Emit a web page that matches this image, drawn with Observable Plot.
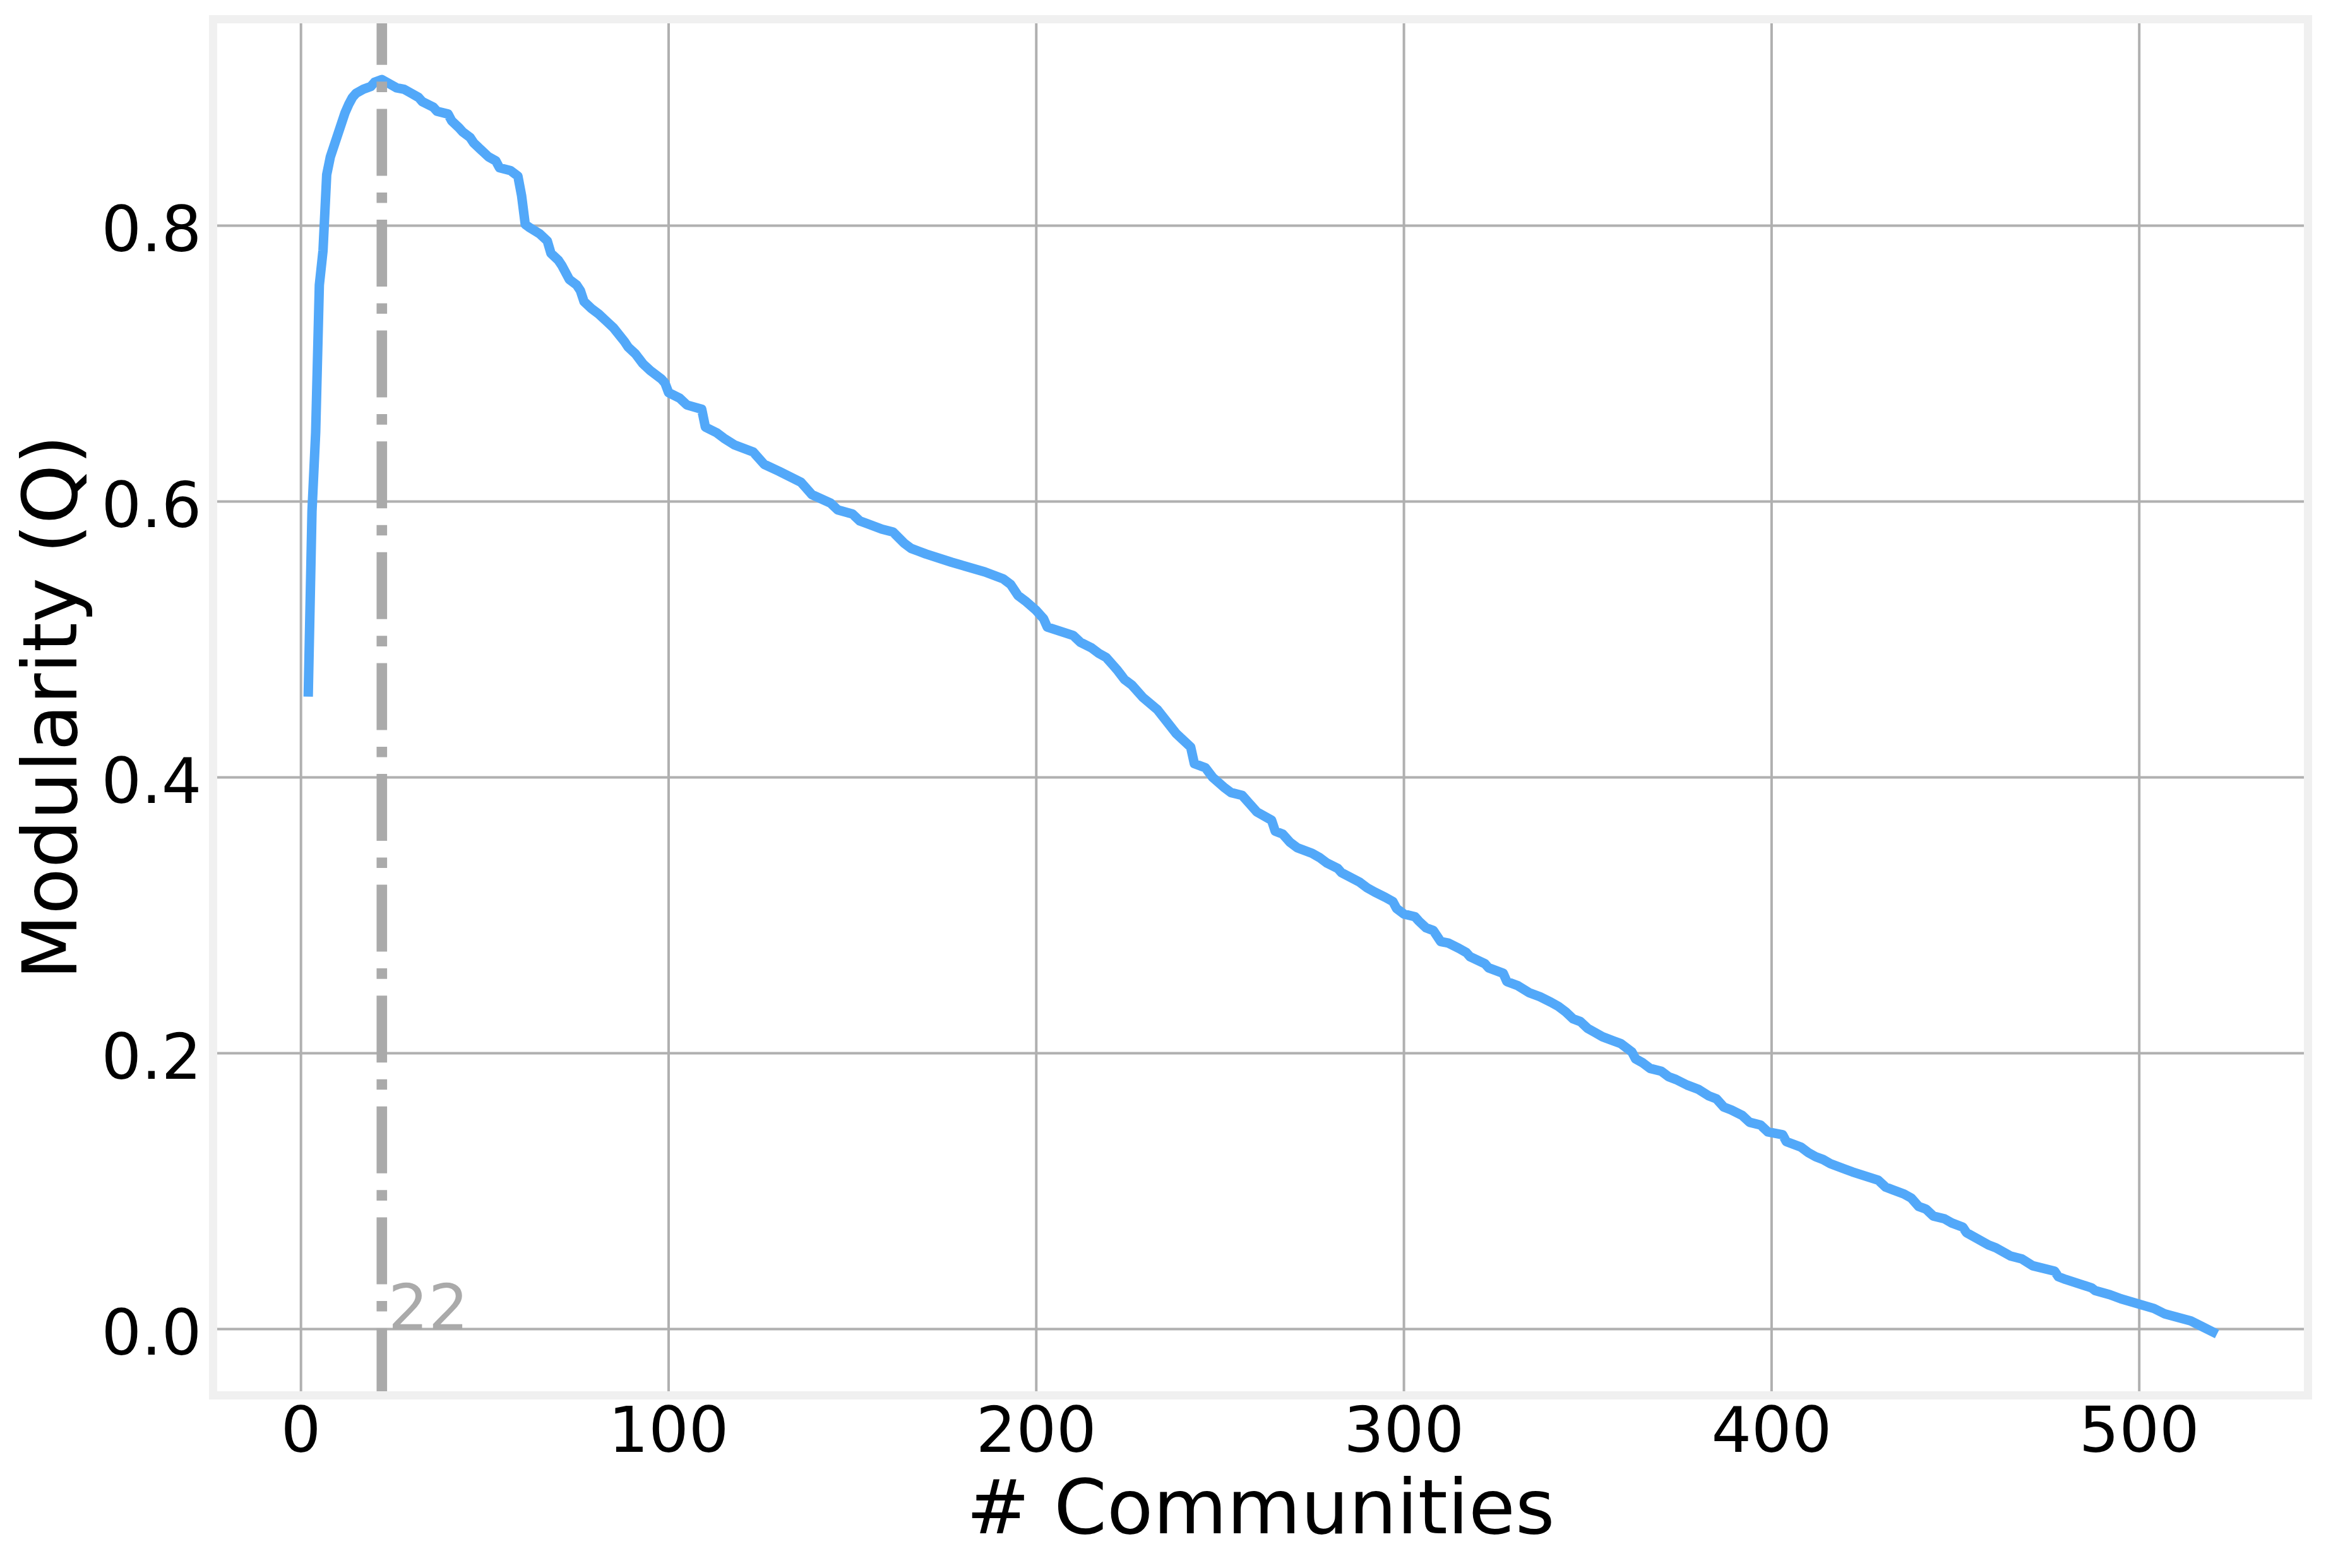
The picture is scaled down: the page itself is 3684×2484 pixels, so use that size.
<!DOCTYPE html>
<html>
<head>
<meta charset="utf-8">
<script src="https://cdn.jsdelivr.net/npm/d3@7"></script>
<script src="https://cdn.jsdelivr.net/npm/@observablehq/plot@0.6"></script>
<style>
  html, body { margin: 0; padding: 0; background: #ffffff; }
  #chart svg { display: block; }
</style>
</head>
<body>
<div id="chart"></div>
<script>
// ---- data ----
const communities = [
  2, 3, 4, 5, 6, 7, 8, 9, 10, 11, 12, 13, 14, 15, 17, 19, 20, 22, 24, 26,
  28, 30, 32, 33, 36, 37, 40, 41, 43, 44, 46, 47, 49, 51, 53, 54, 57, 59, 60, 61,
  62, 65, 67, 68, 70, 71, 73, 75, 76, 77, 79, 81, 83, 85, 88, 89, 91, 93, 95, 98,
  99, 100, 103, 105, 109, 110, 113, 115, 118, 123, 126, 130, 133, 136, 139, 144, 146, 150, 152, 154,
  158, 161, 164, 166, 168, 170, 177, 186, 191, 193, 195, 197, 200, 202, 203, 210, 212, 215, 217, 219,
  221, 222, 224, 226, 229, 233, 238, 242, 243, 246, 248, 251, 253, 256, 258, 260, 264, 265, 267, 269,
  271, 275, 277, 279, 282, 283, 288, 290, 292, 295, 297, 298, 300, 303, 304, 306, 308, 310, 312, 315,
  317, 318, 322, 323, 327, 328, 331, 334, 337, 340, 342, 344, 346, 348, 350, 352, 354, 357, 359, 362,
  363, 365, 367, 370, 372, 374, 377, 380, 383, 385, 387, 389, 392, 394, 397, 399, 403, 404, 408, 410,
  412, 414, 416, 420, 422, 429, 431, 433, 436, 438, 440, 442, 444, 447, 449, 452, 453, 459, 461, 465,
  468, 471, 477, 478, 480, 487, 488, 492, 495, 504, 507, 514, 517, 520
];
const modularity = [
  0.462, 0.593, 0.650, 0.757, 0.782, 0.837, 0.850, 0.858, 0.866, 0.874, 0.882, 0.888, 0.893, 0.896, 0.899, 0.901, 0.904, 0.906, 0.903, 0.900,
  0.899, 0.896, 0.893, 0.890, 0.886, 0.883, 0.881, 0.876, 0.871, 0.868, 0.864, 0.860, 0.855, 0.850, 0.847, 0.842, 0.840, 0.836, 0.822, 0.801,
  0.799, 0.794, 0.789, 0.780, 0.775, 0.771, 0.761, 0.757, 0.753, 0.745, 0.740, 0.736, 0.731, 0.726, 0.716, 0.712, 0.707, 0.700, 0.695, 0.689,
  0.686, 0.679, 0.675, 0.670, 0.667, 0.654, 0.650, 0.646, 0.641, 0.636, 0.627, 0.622, 0.618, 0.614, 0.605, 0.599, 0.594, 0.591, 0.586, 0.584,
  0.580, 0.578, 0.570, 0.566, 0.564, 0.562, 0.556, 0.549, 0.544, 0.540, 0.532, 0.528, 0.521, 0.515, 0.509, 0.503, 0.498, 0.494, 0.490, 0.487,
  0.481, 0.478, 0.471, 0.467, 0.458, 0.449, 0.432, 0.422, 0.410, 0.407, 0.400, 0.393, 0.389, 0.387, 0.381, 0.375, 0.369, 0.361, 0.359, 0.353,
  0.349, 0.345, 0.342, 0.338, 0.334, 0.331, 0.324, 0.320, 0.317, 0.313, 0.310, 0.305, 0.301, 0.299, 0.296, 0.291, 0.289, 0.281, 0.280, 0.276,
  0.273, 0.270, 0.265, 0.262, 0.258, 0.252, 0.249, 0.244, 0.241, 0.237, 0.234, 0.230, 0.225, 0.223, 0.218, 0.215, 0.212, 0.209, 0.207, 0.201,
  0.196, 0.193, 0.189, 0.187, 0.183, 0.181, 0.177, 0.174, 0.169, 0.167, 0.161, 0.159, 0.155, 0.150, 0.148, 0.143, 0.141, 0.136, 0.132, 0.128,
  0.125, 0.123, 0.120, 0.116, 0.114, 0.108, 0.103, 0.101, 0.098, 0.095, 0.089, 0.087, 0.082, 0.080, 0.077, 0.074, 0.070, 0.061, 0.059, 0.053,
  0.051, 0.046, 0.042, 0.038, 0.036, 0.030, 0.028, 0.025, 0.022, 0.015, 0.011, 0.006, 0.002, -0.002
];
const bestCommunities = [22];
const bestLabels = ["22"];
const xTicks = [0, 100, 200, 300, 400, 500];
const yTicks = [0.0, 0.2, 0.4, 0.6, 0.8];
const xLabel = "# Communities";
const yLabel = "Modularity (Q)";

const series = communities.map((c, i) => ({communities: c, modularity: modularity[i]}));
const best = bestCommunities.map((c, i) => ({communities: c, label: bestLabels[i]}));

const yDomain = [-0.048, 0.9497];

const chart = Plot.plot({
  width: 3684,
  height: 2484,
  marginLeft: 337,
  marginRight: 29,
  marginTop: 30,
  marginBottom: 274,
  style: {fontFamily: "'DejaVu Sans', sans-serif", fontSize: "100px", background: "#ffffff", color: "#000000"},
  x: {domain: [-23.9, 545.9]},
  y: {domain: yDomain},
  marks: [
    Plot.gridX({ticks: xTicks, stroke: "#b0b0b0", strokeOpacity: 1, strokeWidth: 4}),
    Plot.gridY({ticks: yTicks, stroke: "#b0b0b0", strokeOpacity: 1, strokeWidth: 4}),
    Plot.axisX({ticks: xTicks, tickSize: 0, tickPadding: 18, fontSize: 100, label: null, tickFormat: d => String(d)}),
    Plot.axisY({ticks: yTicks, tickSize: 0, tickPadding: 18, fontSize: 100, label: null, tickFormat: d => d.toFixed(1), dy: 8}),
    Plot.line(series, {x: "communities", y: "modularity", stroke: "#52a8f9", strokeWidth: 15, strokeLinejoin: "round", strokeLinecap: "square"}),
    Plot.ruleX(best, {x: "communities", y1: () => yDomain[0], y2: () => yDomain[1], stroke: "#aaaaaa", strokeWidth: 16.6, strokeDasharray: "106,26.5,16.6,26.5"}),
    Plot.text(best, {x: "communities", y: () => 0, text: "label", textAnchor: "start", lineAnchor: "bottom", dx: 10, fill: "#aaaaaa", fontSize: 100}),
    Plot.frame({stroke: "#f0f0f0", strokeWidth: 13}),
    Plot.text([xLabel], {frameAnchor: "bottom", textAnchor: "middle", lineAnchor: "bottom", dy: 218, fontSize: 120, fill: "#000000"}),
    Plot.text([yLabel], {frameAnchor: "left", textAnchor: "middle", rotate: -90, lineAnchor: "bottom", dx: -217, fontSize: 120, fill: "#000000"})
  ]
});
document.getElementById("chart").appendChild(chart);
</script>
</body>
</html>
